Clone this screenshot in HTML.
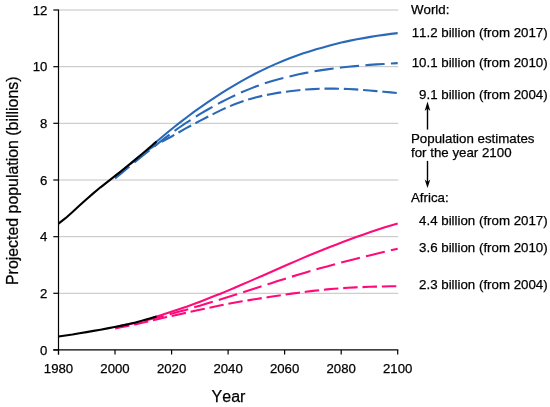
<!DOCTYPE html>
<html><head><meta charset="utf-8"><title>Projected population</title>
<style>
html,body{margin:0;padding:0;background:#fff;}
svg{display:block;font-family:"Liberation Sans",Arial,sans-serif;font-kerning:none;}
.t{font-size:13.2px;fill:#000;stroke:#000;stroke-width:0.25px;}
.r{font-size:13.3px;fill:#000;stroke:#000;stroke-width:0.25px;}
.a{font-size:16px;fill:#000;stroke:#000;stroke-width:0.25px;}
</style></head><body>
<svg width="550" height="407" viewBox="0 0 550 407">
<rect width="550" height="407" fill="#fff"/>
<g stroke="#c2c2c2" stroke-width="1" fill="none">
<line x1="59" x2="398.3" y1="293.3" y2="293.3"/>
<line x1="59" x2="398.3" y1="236.7" y2="236.7"/>
<line x1="59" x2="398.3" y1="180.0" y2="180.0"/>
<line x1="59" x2="398.3" y1="123.3" y2="123.3"/>
<line x1="59" x2="398.3" y1="66.7" y2="66.7"/>
<line x1="59" x2="398.3" y1="10.0" y2="10.0"/>
</g>
<g fill="none" stroke-width="2.1" stroke-linejoin="round">
<path d="M153.2 144.4 L160.0 138.7 L166.8 133.0 L173.6 127.5 L180.4 122.2 L187.2 117.0 L193.9 111.9 L200.7 107.1 L207.5 102.4 L214.3 97.8 L221.1 93.4 L227.9 89.2 L234.7 85.1 L241.5 81.1 L248.3 77.4 L255.1 73.8 L261.9 70.4 L268.7 67.1 L275.4 64.1 L282.2 61.3 L289.0 58.6 L295.8 56.0 L302.6 53.6 L309.4 51.4 L316.2 49.3 L323.0 47.4 L329.8 45.6 L336.6 43.8 L343.4 42.1 L350.2 40.6 L356.9 39.3 L363.7 38.1 L370.5 36.9 L377.3 35.8 L384.1 34.9 L390.9 33.9 L397.7 33.1" stroke="#2a69b8"/>
<path d="M115.0 178.4 L122.1 172.6 L129.2 166.8 L136.2 161.0 L143.3 155.3 L150.4 149.6 L157.4 144.0 L164.5 138.4 L171.6 133.1 L178.6 128.0 L185.7 123.2 L192.8 118.7 L199.8 114.2 L206.9 110.0 L214.0 106.0 L221.0 102.2 L228.1 98.6 L235.2 95.2 L242.2 92.0 L249.3 89.1 L256.4 86.3 L263.4 83.8 L270.5 81.5 L277.6 79.4 L284.6 77.6 L291.7 75.9 L298.8 74.3 L305.8 72.9 L312.9 71.6 L320.0 70.4 L327.0 69.4 L334.1 68.4 L341.2 67.5 L348.2 66.8 L355.3 66.1 L362.4 65.5 L369.4 64.9 L376.5 64.4 L383.6 64.0 L390.6 63.5 L397.7 63.1" stroke="#2a69b8" stroke-dasharray="19.3 6.3" stroke-dashoffset="0.6"/>
<path d="M115.0 176.2 L122.1 170.8 L129.2 165.0 L136.2 159.0 L143.3 153.4 L150.4 148.4 L157.4 144.0 L164.5 140.2 L171.6 136.5 L178.6 132.5 L185.7 128.4 L192.8 124.6 L199.8 120.9 L206.9 117.2 L214.0 113.6 L221.0 110.1 L228.1 106.9 L235.2 104.0 L242.2 101.5 L249.3 99.2 L256.4 97.3 L263.4 95.6 L270.5 94.2 L277.6 92.9 L284.6 91.9 L291.7 91.0 L298.8 90.2 L305.8 89.5 L312.9 89.1 L320.0 88.7 L327.0 88.6 L334.1 88.6 L341.2 88.8 L348.2 89.0 L355.3 89.4 L362.4 89.9 L369.4 90.5 L376.5 91.1 L383.6 91.7 L390.6 92.4 L397.7 93.0" stroke="#2a69b8" stroke-dasharray="14.5 4.82" stroke-dashoffset="19.3"/>
<path d="M153.2 317.5 L160.0 315.4 L166.8 313.2 L173.6 311.0 L180.4 308.7 L187.2 306.4 L193.9 303.9 L200.7 301.4 L207.5 298.8 L214.3 296.1 L221.1 293.4 L227.9 290.6 L234.7 287.7 L241.5 284.8 L248.3 281.9 L255.1 278.9 L261.9 276.0 L268.7 273.0 L275.4 270.0 L282.2 267.0 L289.0 264.0 L295.8 261.1 L302.6 258.1 L309.4 255.3 L316.2 252.5 L323.0 249.7 L329.8 247.0 L336.6 244.4 L343.4 241.8 L350.2 239.3 L356.9 236.8 L363.7 234.4 L370.5 232.1 L377.3 229.8 L384.1 227.6 L390.9 225.5 L397.7 223.4" stroke="#ff0a7a"/>
<path d="M115.0 327.0 L122.1 325.6 L129.2 324.2 L136.2 322.7 L143.3 321.0 L150.4 319.3 L157.4 317.6 L164.5 315.7 L171.6 313.8 L178.6 311.8 L185.7 309.9 L192.8 307.8 L199.8 305.7 L206.9 303.6 L214.0 301.5 L221.0 299.3 L228.1 297.0 L235.2 294.8 L242.2 292.5 L249.3 290.2 L256.4 287.9 L263.4 285.6 L270.5 283.4 L277.6 281.1 L284.6 278.9 L291.7 276.7 L298.8 274.5 L305.8 272.4 L312.9 270.4 L320.0 268.3 L327.0 266.4 L334.1 264.4 L341.2 262.6 L348.2 260.8 L355.3 259.0 L362.4 257.2 L369.4 255.5 L376.5 253.7 L383.6 252.1 L390.6 250.4 L397.7 248.7" stroke="#ff0a7a" stroke-dasharray="19.3 6.3" stroke-dashoffset="20.7"/>
<path d="M115.0 328.4 L122.1 327.0 L129.2 325.6 L136.2 324.1 L143.3 322.5 L150.4 320.9 L157.4 319.3 L164.5 317.6 L171.6 316.0 L178.6 314.4 L185.7 312.9 L192.8 311.3 L199.8 309.8 L206.9 308.2 L214.0 306.7 L221.0 305.2 L228.1 303.8 L235.2 302.5 L242.2 301.3 L249.3 300.1 L256.4 299.0 L263.4 297.9 L270.5 296.8 L277.6 295.7 L284.6 294.6 L291.7 293.6 L298.8 292.7 L305.8 291.8 L312.9 290.9 L320.0 290.1 L327.0 289.4 L334.1 288.8 L341.2 288.2 L348.2 287.8 L355.3 287.4 L362.4 287.1 L369.4 286.8 L376.5 286.6 L383.6 286.5 L390.6 286.3 L397.7 286.2" stroke="#ff0a7a" stroke-dasharray="14.5 4.82" stroke-dashoffset="19.2"/>
<path d="M58.5 223.7 L65.5 218.2 L72.5 212.0 L79.5 205.6 L86.5 199.2 L93.5 193.1 L100.5 187.3 L107.5 181.8 L114.5 176.3 L121.6 170.8 L128.6 165.1 L135.6 159.4 L142.6 153.5 L149.6 147.5 L156.6 141.5" stroke="#000"/>
<path d="M58.5 336.5 L65.5 335.5 L72.5 334.5 L79.5 333.3 L86.5 332.1 L93.5 330.9 L100.5 329.7 L107.5 328.4 L114.5 327.0 L121.6 325.6 L128.6 324.1 L135.6 322.4 L142.6 320.6 L149.6 318.6 L156.6 316.4" stroke="#000"/>
</g>
<g stroke="#000" stroke-width="1.2" fill="none">
<path d="M58.5 9.4V354.6"/>
<path d="M53.3 349.9H398.3" stroke-width="1.4"/>
<line x1="53.3" x2="58.5" y1="350.0" y2="350.0"/>
<line x1="53.3" x2="58.5" y1="293.3" y2="293.3"/>
<line x1="53.3" x2="58.5" y1="236.7" y2="236.7"/>
<line x1="53.3" x2="58.5" y1="180.0" y2="180.0"/>
<line x1="53.3" x2="58.5" y1="123.3" y2="123.3"/>
<line x1="53.3" x2="58.5" y1="66.7" y2="66.7"/>
<line x1="53.3" x2="58.5" y1="10.0" y2="10.0"/>
<line x1="58.5" x2="58.5" y1="350" y2="354.6"/>
<line x1="115.0" x2="115.0" y1="350" y2="354.6"/>
<line x1="171.6" x2="171.6" y1="350" y2="354.6"/>
<line x1="228.1" x2="228.1" y1="350" y2="354.6"/>
<line x1="284.6" x2="284.6" y1="350" y2="354.6"/>
<line x1="341.2" x2="341.2" y1="350" y2="354.6"/>
<line x1="397.7" x2="397.7" y1="350" y2="354.6"/>
</g>
<g class="t">
<text x="47.4" y="354.6" text-anchor="end">0</text>
<text x="47.4" y="297.9" text-anchor="end">2</text>
<text x="47.4" y="241.3" text-anchor="end">4</text>
<text x="47.4" y="184.6" text-anchor="end">6</text>
<text x="47.4" y="127.9" text-anchor="end">8</text>
<text x="47.4" y="71.3" text-anchor="end">10</text>
<text x="47.4" y="14.6" text-anchor="end">12</text>
<text x="58.5" y="373.3" text-anchor="middle">1980</text>
<text x="115.0" y="373.3" text-anchor="middle">2000</text>
<text x="171.6" y="373.3" text-anchor="middle">2020</text>
<text x="228.1" y="373.3" text-anchor="middle">2040</text>
<text x="284.6" y="373.3" text-anchor="middle">2060</text>
<text x="341.2" y="373.3" text-anchor="middle">2080</text>
<text x="397.7" y="373.3" text-anchor="middle">2100</text>
</g>
<text class="a" x="228.5" y="402.4" text-anchor="middle">Year</text>
<text class="a" transform="translate(17.9 285) rotate(-90)" style="font-size:15.9px">Projected population (billions)</text>
<g class="r">
<text x="411" y="13.6">World:</text>
<text x="547.7" y="36.8" text-anchor="end">11.2 billion (from 2017)</text>
<text x="547.7" y="67.4" text-anchor="end">10.1 billion (from 2010)</text>
<text x="547.7" y="99.1" text-anchor="end">9.1 billion (from 2004)</text>
<text x="411" y="143.4">Population estimates</text>
<text x="411" y="157">for the year 2100</text>
<text x="411" y="202.1">Africa:</text>
<text x="547.7" y="224.8" text-anchor="end">4.4 billion (from 2017)</text>
<text x="547.7" y="252.2" text-anchor="end">3.6 billion (from 2010)</text>
<text x="547.7" y="289" text-anchor="end">2.3 billion (from 2004)</text>
</g>
<g stroke="#000" stroke-width="1.4" fill="#000">
<line x1="427.5" x2="427.5" y1="108" y2="129.6"/>
<path d="M427.5 101.6L430.3 110.9L427.5 108.4L424.7 110.9Z" stroke="none"/>
<line x1="427.5" x2="427.5" y1="160.9" y2="182"/>
<path d="M427.5 188.1L430.3 179.5L427.5 182L424.7 179.5Z" stroke="none"/>
</g>
</svg>
</body></html>
